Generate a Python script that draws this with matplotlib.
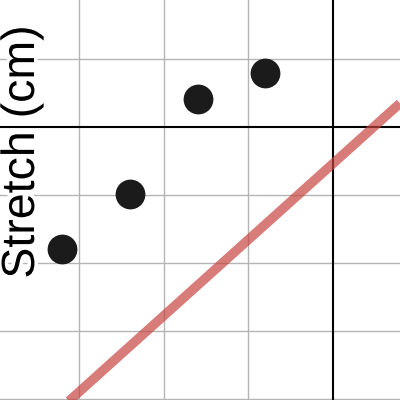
import numpy as np
import matplotlib.pyplot as plt
import matplotlib.patheffects as pe

# data (grid units, axes cross at 0, 0)
load_x = [-3.2, -2.4, -1.6, -0.8]
stretch_y = [-1.80, -0.985, 0.41, 0.79]
fit_slope = 1.12
fit_intercept = -0.537
x_limits = (-3.933, 0.791)
y_limits = (-4.015, 1.868)
y_label = "Stretch (cm)"

fig = plt.figure(figsize=(4, 4), dpi=100, facecolor='white')
ax = fig.add_axes([0, 0, 1, 1])
ax.set_xlim(*x_limits)
ax.set_ylim(*y_limits)

# light grid on whole units
for gx in np.arange(np.ceil(x_limits[0]), x_limits[1] + 1e-9, 1.0):
    if gx != 0:
        ax.axvline(gx, color='#b4b4b4', lw=1.0, zorder=1)
for gy in np.arange(np.ceil(y_limits[0]), y_limits[1] + 1e-9, 1.0):
    if gy != 0:
        ax.axhline(gy, color='#b4b4b4', lw=1.0, zorder=1)

# main axes
ax.axvline(0, color='black', lw=1.5, zorder=3)
ax.axhline(0, color='black', lw=1.5, zorder=3)

# fitted line
xs = np.array(x_limits)
ax.plot(xs, fit_slope * xs + fit_intercept, color='#c74440', alpha=0.7,
        lw=6.8, solid_capstyle='butt', zorder=4)

# measured points
ax.scatter(load_x, stretch_y, s=460, color='#1b1b1b', zorder=5, linewidths=0)

fig.text(0.055, 0.62, y_label, rotation=90, ha='center', va='center',
         fontsize=33.5, family='Liberation Sans', color='black', zorder=2.5,
         path_effects=[pe.withStroke(linewidth=5, foreground='white')])

for s in ax.spines.values():
    s.set_visible(False)
ax.set_xticks([])
ax.set_yticks([])

fig.savefig('out.png', dpi=100, facecolor='white')
